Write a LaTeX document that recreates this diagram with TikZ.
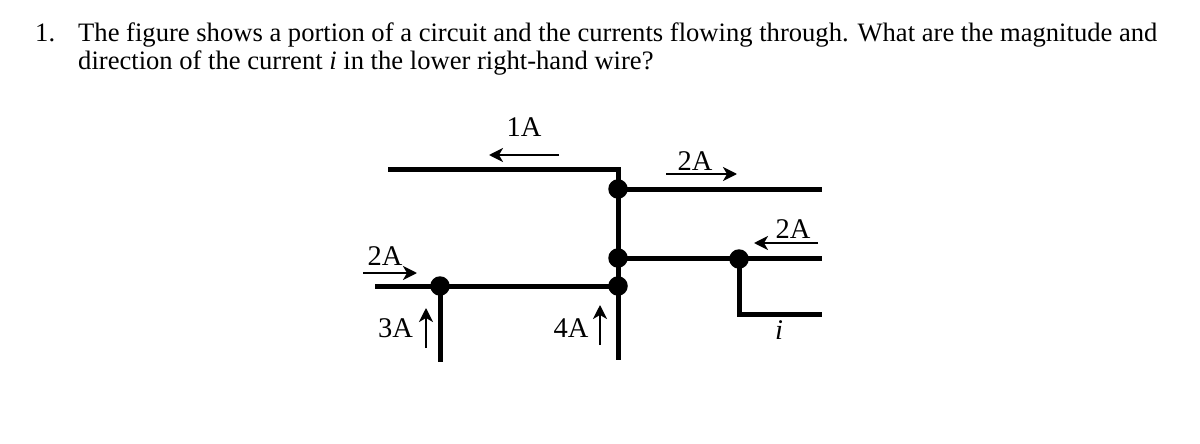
\documentclass[tikz,border=0pt]{standalone}
\usepackage{fontspec}
\setmainfont{Liberation Serif}
\usetikzlibrary{arrows.meta}
\tikzset{
  wire/.style={line width=5pt},
  flow/.style={line width=2.2pt,-{Stealth[length=14pt,width=14pt,inset=4pt]}},
  dot/.style={circle,fill=black,inner sep=0pt,minimum size=19.5pt},
  amps/.style={font=\fontsize{28.5}{28.5}\selectfont,inner sep=0pt,anchor=base}
}
\begin{document}
\begin{tikzpicture}[x=1pt,y=-1pt]
  \useasboundingbox (0,0) rectangle (1200,444);
  % question
  \begin{scope}[every node/.style={anchor=base west,inner sep=0pt,font=\fontsize{26.6}{26.6}\selectfont}]
    \node (num) at (35,42) {1.};
    \node (lineA) at (78,42) {The figure shows a portion of a circuit and the currents flowing through. What are the magnitude and};
    \node (lineB) at (78,70) {direction of the current \textit{i} in the lower right-hand wire?};
  \end{scope}
  % junctions
  \begin{scope}[every node/.style={dot}]
    \node (J1) at (618,189) {};
    \node (J2) at (618,258) {};
    \node (J3) at (618,286) {};
    \node (J4) at (440,286) {};
    \node (J5) at (739,259) {};
  \end{scope}
  % free ends
  \coordinate (topL) at (388,169);
  \coordinate (topC) at (618,169);
  \coordinate (midL) at (375,286);
  \coordinate (botA) at (440,362);
  \coordinate (botB) at (618,360);
  \coordinate (outA) at (822,189);
  \coordinate (outB) at (822,258);
  \coordinate (outC) at (822,314);
  \coordinate (cornerC) at (739,314);
  % wires
  \begin{scope}[every path/.style={wire}]
    \draw (topL) -- (topC) -- (J1.center);
    \draw (J1.center) -- (J2.center);
    \draw (J2.center) -- (J3.center);
    \draw (J3.center) -- (botB);
    \draw (midL) -- (J4.center);
    \draw (J4.center) -- (J3.center);
    \draw (J4.center) -- (botA);
    \draw (J1.center) -- (outA);
    \draw (J2.center) -- (outB);
    \draw (J5.center) -- (cornerC) -- (outC);
  \end{scope}
  % currents
  \coordinate (fA) at (559,155); \coordinate (fB) at (489,155);
  \coordinate (fC) at (666,174); \coordinate (fD) at (737,174);
  \coordinate (fE) at (818,243); \coordinate (fF) at (754,243);
  \coordinate (fG) at (363,273); \coordinate (fH) at (417,273);
  \coordinate (fI) at (426,348); \coordinate (fJ) at (426,308);
  \coordinate (fK) at (600,345); \coordinate (fL) at (600,305);
  \draw[flow] (fA) -- (fB);
  \draw[flow] (fC) -- (fD);
  \draw[flow] (fE) -- (fF);
  \draw[flow] (fG) -- (fH);
  \draw[flow] (fI) -- (fJ);
  \draw[flow] (fK) -- (fL);
  \begin{scope}[every node/.style={amps}]
    \node (oneA) at (524,136) {1A};
    \node (twoA) at (695,170) {2A};
    \node (twoB) at (793,238) {2A};
    \node (twoC) at (385,265) {2A};
    \node (threeA) at (395.5,337) {3A};
    \node (fourA) at (571,337) {4A};
    \node (cur) at (779,339) {\textit{i}};
  \end{scope}
\end{tikzpicture}
\end{document}
